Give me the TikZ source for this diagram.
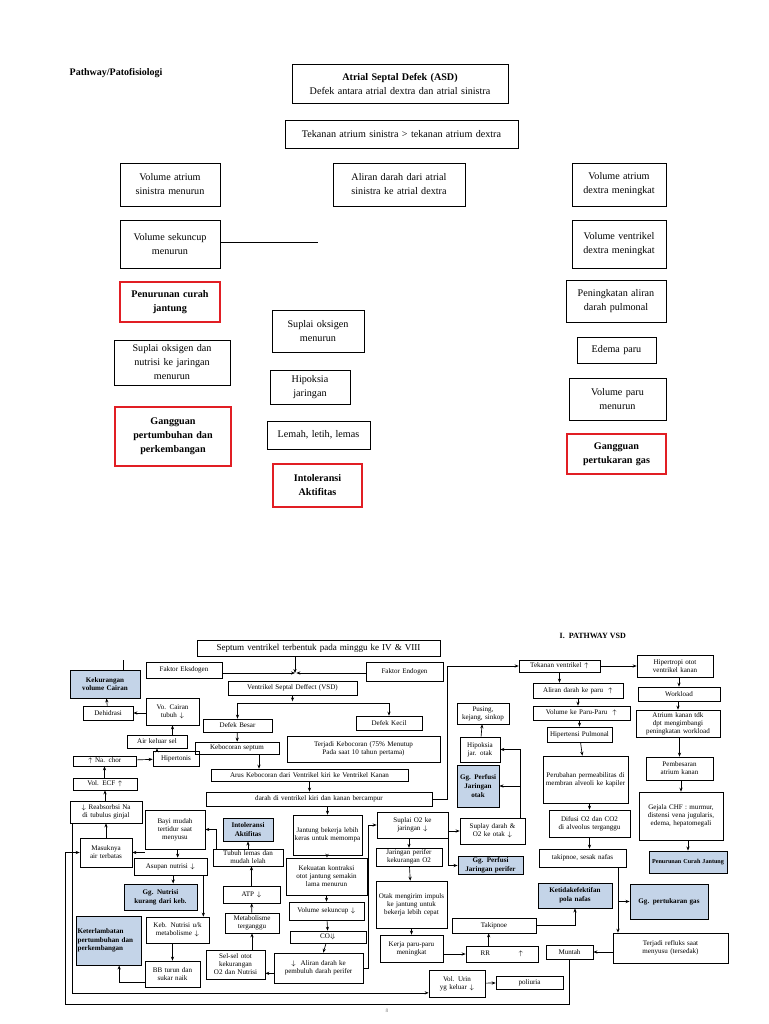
\documentclass[tikz,border=0pt]{standalone}
\usepackage{fontspec}
\setmainfont{Liberation Serif}
\usetikzlibrary{arrows.meta,calc}
\definecolor{rd}{RGB}{225,30,36}
\definecolor{bl}{RGB}{196,212,232}
\newcommand\bx[7][]{\node[box,#1,text width={0.75pt*(#5-#3)-2.4pt},minimum height={0.75pt*(#6-#4)}] (#2) at ({(#3+#5)/2},{(#4+#6)/2}) {#7};}
\begin{document}
\hyphenpenalty=10000\exhyphenpenalty=10000
\begin{tikzpicture}[x=0.75pt,y=-0.75pt,
 box/.style={draw,line width=0.5pt,align=center,inner sep=1.2pt,font=\fontsize{5.3}{6}\selectfont},
 top/.style={line width=0.6pt,font=\fontsize{7.6}{10.5}\selectfont},
 red/.style={draw=rd,line width=1.1pt,font=\fontsize{7.6}{10.5}\selectfont\bfseries},
 blu/.style={fill=bl,line width=0.7pt,font=\fontsize{5.3}{6.5}\selectfont\bfseries},
 arr/.style={-{Stealth[length=3pt,width=2.4pt]},line width=0.5pt},
 ln/.style={line width=0.5pt}]
\useasboundingbox (0,0) rectangle (768,1024);
% ---------- top ----------
\node[anchor=west,font=\fontsize{7.5}{9}\selectfont\bfseries] (ttl) at (65,73) {Pathway/Patofisiologi};
\bx[top]{asd}{292}{64}{508}{103}{\textbf{Atrial Septal Defek (ASD)}\\Defek antara atrial dextra dan atrial sinistra}
\bx[top]{tek}{285}{120}{518}{148}{Tekanan atrium sinistra > tekanan atrium dextra}
\bx[top]{vas}{120}{163}{220}{206}{Volume atrium\\sinistra menurun}
\bx[top]{ald}{333}{163}{465}{206}{Aliran darah dari atrial\\sinistra ke atrial dextra}
\bx[top]{vad}{572}{163}{666}{206}{Volume atrium\\dextra meningkat}
\bx[top]{vsk}{120}{220}{220}{268}{Volume sekuncup\\menurun}
\coordinate (vse) at (318,242);
\draw[line width=0.6pt] (vsk.east |- vse) -- (vse);
\bx[top]{vvd}{572}{220}{666}{268}{Volume ventrikel\\dextra meningkat}
\bx[red]{pcj}{120}{282}{220}{322}{Penurunan curah\\jantung}
\bx[top]{pad}{566}{280}{666}{322}{Peningkatan aliran\\darah pulmonal}
\bx[top]{som}{272}{310}{364}{352}{Suplai oksigen\\menurun}
\bx[top]{son}{114}{340}{230}{385}{Suplai oksigen dan\\nutrisi ke jaringan\\menurun}
\bx[top]{edp}{577}{337}{656}{363}{Edema paru}
\bx[top]{hj}{270}{370}{350}{404}{Hipoksia\\jaringan}
\bx[top]{vpm}{569}{378}{666}{420}{Volume paru\\menurun}
\bx[red]{gpp}{115}{407}{231}{466}{Gangguan\\pertumbuhan dan\\perkembangan}
\bx[top]{lll}{267}{421}{370}{449}{Lemah, letih, lemas}
\bx[red]{gpg}{567}{434}{666}{474}{Gangguan\\pertukaran gas}
\bx[red]{ia}{273}{464}{362}{507}{Intoleransi\\Aktifitas}
% ---------- bottom ----------
\node[anchor=west,font=\fontsize{6}{7}\selectfont\bfseries] (pv) at (555,636) {I.\ \ PATHWAY VSD};
\bx[font=\fontsize{6.8}{8}\selectfont]{sep}{197}{640}{440}{656}{Septum ventrikel terbentuk pada minggu ke IV \& VIII}
\bx{eks}{146}{662}{222}{678}{Faktor Eksdogen}
\bx{endo}{366}{662}{443}{681}{Faktor Endogen}
\coordinate (jn) at (295,673);
\draw[arr] (sep.south -| jn) -- (jn);
\draw[arr] (eks.east |- jn) -- (jn);
\draw[arr] (endo.west |- jn) -- ([xshift=1pt]jn);
\bx{vsd}{228}{681}{357}{695}{Ventrikel Septal Deffect (VSD)}
\bx{defb}{203}{719}{272}{732}{Defek Besar}
\bx{defk}{356}{716}{422}{730}{Defek Kecil}
\coordinate (sp) at (292,703);
\draw[arr] (vsd.south) -- ++(0,6);
\draw[ln] (defb.north |- sp) -- (defk.north |- sp);
\draw[arr] (defb.north |- sp) -- (defb.north);
\draw[arr] (defk.north |- sp) -- (defk.north);
\bx{kebs}{195}{742}{279}{754}{Kebocoran septum}
\bx{terj}{287}{736}{440}{762}{Terjadi Kebocoran (75\% Menutup Pada saat 10 tahun pertama)}
\draw[arr] (defb) -- (kebs);
\bx{arus}{211}{769}{408}{781}{Arus Kebocoran dari Ventrikel kiri ke Ventrikel Kanan}
\draw[arr] ([xshift=16.5pt]kebs.south) -- ([xshift=16.5pt]kebs.south |- arus.north);
\bx{darah}{206}{792}{432}{806}{darah di ventrikel kiri dan kanan bercampur}
\draw[arr] (arus.south) -- (arus.south |- darah.north);
% left column
\bx[blu]{kek}{70}{670}{140}{698}{Kekurangan volume Cairan}
\coordinate (kt) at (123,660);
\draw[ln] (kt) -- (kt |- kek.north);
\bx{dehi}{83}{706}{133}{720}{Dehidrasi}
\bx{voc}{146}{698}{199}{725}{Vo. Cairan tubuh $\downarrow$}
\bx{air}{127}{735}{187}{748}{Air keluar sel}
\bx{na}{73}{756}{136}{766}{$\uparrow$ Na. chor}
\bx{hip}{153}{751}{199}{766}{Hipertonis}
\bx{ecf}{73}{778}{137}{790}{Vol. ECF $\uparrow$}
\bx{reab}{70}{801}{142}{823}{$\downarrow$ Reabsorbsi Na di tubulus ginjal}
\bx{bayi}{145}{810}{205}{849}{Bayi mudah tertidur saat menyusu}
\bx{mas}{80}{838}{132}{867}{Masuknya air terbatas}
\draw[arr] (dehi) -- (kek);
\draw[arr] (voc.west |- dehi.east) -- (dehi.east);
\draw[arr] (air.north -| voc.south) -- (voc.south);
\draw[arr] (na) -- (hip);
\draw[arr] (hip.north -| air.south) -- (air.south);
\draw[arr] (ecf.north -| na.south) -- (na.south);
\draw[arr] (reab.north -| ecf.south) -- (ecf.south);
\draw[arr] (mas.north) -- (mas.north |- reab.south);
\draw[arr] (bayi.west |- mas.east) -- (mas.east);
\bx[blu]{intol}{223}{818}{273}{841}{Intoleransi Aktifitas}
\bx{tub}{213}{849}{283}{866}{Tubuh lemas dan mudah lelah}
\draw[arr] ([xshift=3pt]tub.north west) |- (bayi.east);
\draw[arr] (tub.north) -- (tub.north |- intol.south);
\bx{asup}{134}{858}{207}{875}{Asupan nutrisi $\downarrow$}
\bx[blu]{gnut}{124}{884}{197}{910}{Gg. Nutrisi kurang dari keb.}
\bx{keb}{146}{917}{209}{943}{Keb. Nutrisi u/k metabolisme $\downarrow$}
\bx{bb}{145}{961}{200}{987}{BB turun dan sukar naik}
\bx[blu,align=left]{kete}{76}{916}{141}{965}{Keterlambatan pertumbuhan dan perkembangan}
\draw[arr] ([xshift=2pt]bayi.south) -- ([xshift=2pt]bayi.south |- asup.north);
\draw[arr] ([xshift=2pt]asup.south) -- ([xshift=2pt]asup.south |- gnut.north);
\draw[arr] ([xshift=-3pt]asup.south east) -- ([xshift=-3pt]asup.south east |- keb.north);
\draw[arr] (keb.south -| bb.north) -- (bb.north);
\draw[arr] ([yshift=-6pt]bb.west) -| ([xshift=8pt]kete.south);
\bx{atp}{223}{886}{280}{903}{ATP $\downarrow$}
\bx{meta}{225}{913}{279}{933}{Metabolisme terganggu}
\bx{sel}{206}{950}{265}{979}{Sel-sel otot kekurangan O2 dan Nutrisi}
\draw[arr] (atp.north) -- (atp.north |- tub.south);
\draw[arr] (meta) -- (atp);
\draw[arr] (sel.north -| meta.south) -- (meta.south);
% middle column
\bx{jan}{293}{815}{362}{855}{Jantung bekerja lebih keras untuk memompa}
\bx{kuat}{286}{858}{367}{895}{Kekuatan kontraksi otot jantung semakin lama menurun}
\bx{vol}{289}{902}{364}{920}{Volume sekuncup $\downarrow$}
\bx{co}{290}{931}{366}{943}{CO$\Downarrow$}
\bx{alir}{274}{953}{363}{983}{$\downarrow$\ \ Aliran darah ke pembuluh darah perifer}
\draw[arr] (darah.south -| jan.north) -- (jan.north);
\draw[arr] (jan) -- (kuat);
\draw[arr] (kuat) -- (vol);
\draw[arr] (vol) -- (co);
\draw[arr] (co) -- (alir);
\draw[arr] ([yshift=-4pt]alir.west) -- ([yshift=-4pt]alir.west -| sel.east);
% right-middle
\bx{supo}{377}{812}{448}{838}{Suplai O2 ke jaringan $\downarrow$}
\draw[arr] (alir.east) -- ++(5,0) |- (supo.west);
\bx{supd}{460}{818}{525}{844}{Suplay darah \& O2 ke otak $\downarrow$}
\bx{pus}{457}{703}{509}{724}{Pusing, kejang, sinkop}
\bx{hipo}{460}{737}{500}{762}{Hipoksia jar. otak}
\bx[blu]{gpo}{457}{765}{499}{807}{Gg. Perfusi Jaringan otak}
\bx{jarp}{376}{849}{442}{865}{Jaringan perifer kekurangan O2}
\bx[blu]{gpjp}{458}{857}{523}{874}{Gg. Perfusi Jaringan perifer}
\bx{otak}{376}{881}{447}{928}{Otak mengirim impuls ke jantung untuk bekerja lebih cepat}
\bx{kerja}{380}{935}{443}{962}{Kerja paru-paru meningkat}
\bx{rr}{466}{946}{538}{962}{RR\hspace{4em}$\uparrow$}
\bx{takip}{452}{918}{536}{933}{Takipnoe}
\bx[blu]{ketid}{538}{883}{612}{908}{Ketidakefektifan pola nafas}
\bx{vu}{429}{970}{485}{997}{Vol. Urin yg keluar $\downarrow$}
\bx{poli}{496}{976}{563}{989}{poliuria}
\draw[arr] (supo.east |- supd.west) -- (supd.west);
\draw[arr] (supo.south east) |- (gpjp.west);
\coordinate (s1) at ([xshift=21pt]supd.north);
\draw[arr] (s1) |- (hipo.east);
\draw[arr] (s1 |- gpo.east) -- (gpo.east);
\draw[arr] (hipo) -- (pus);
\draw[arr] (supo.south -| jarp.north) -- (jarp.north);
\draw[arr] (jarp) -- (otak);
\draw[arr] (otak) -- (kerja);
\draw[arr] (kerja.east |- rr.west) -- (rr.west);
\draw[arr] ([xshift=-10pt]rr.north) -- ([xshift=-10pt]rr.north |- takip.south);
\draw[arr] (takip.east) -| (ketid.south);
\draw[arr] (vu) -- (poli);
% right top
\bx{tekv}{519}{660}{600}{672}{Tekanan ventrikel $\uparrow$}
\draw[arr] (darah.east) -- ++(15,0) |- (tekv.west);
\bx{hipt}{637}{655}{713}{677}{Hipertropi otot ventrikel kanan}
\bx{aldp}{533}{683}{623}{698}{Aliran darah ke paru\ \ $\uparrow$}
\bx{vpp}{533}{706}{630}{720}{Volume ke Paru-Paru\ \ $\uparrow$}
\bx{hpul}{547}{727}{612}{742}{Hipertensi Pulmonal}
\bx{perm}{543}{756}{628}{803}{Perubahan permeabilitas di membran alveoli ke kapiler}
\bx{dif}{549}{810}{630}{837}{Difusi O2 dan CO2 di alveolus terganggu}
\bx{taks}{539}{849}{626}{867}{takipnoe, sesak nafas}
\bx{work}{638}{687}{720}{701}{Workload}
\bx{atk}{636}{710}{720}{737}{Atrium kanan tdk dpt mengimbangi peningkatan workload}
\bx{pemb}{646}{757}{713}{780}{Pembesaran atrium kanan}
\bx{gej}{639}{792}{723}{840}{Gejala CHF : murmur, distensi vena jugularis, edema, hepatomegali}
\bx[blu,font=\fontsize{4.6}{5.6}\selectfont\bfseries]{pcj2}{649}{851}{727}{873}{Penurunan Curah Jantung}
\bx[blu]{gpgas}{630}{884}{708}{919}{Gg. pertukaran gas}
\bx{refl}{613}{933}{728}{963}{Terjadi refluks saat menyusu (tersedak)}
\bx{munt}{546}{945}{593}{959}{Muntah}
\draw[arr] (tekv) -- (hipt);
\draw[arr] (tekv.south) -- (tekv.south |- aldp.north);
\draw[arr] (aldp.south) -- (aldp.south |- vpp.north);
\draw[arr] (vpp.south -| hpul.north) -- (hpul.north);
\draw[arr] (hpul) -- (perm);
\draw[arr] (perm.south -| dif.north) -- (dif.north);
\draw[arr] (dif.south) -- (dif.south |- taks.north);
\draw[arr] (hipt.south -| work.north) -- (work.north);
\draw[arr] (work.south -| atk.north) -- (atk.north);
\draw[arr] (atk.south -| pemb.north) -- (pemb.north);
\draw[arr] (pemb.south -| gej.north) -- (gej.north);
\draw[arr] (gej.south -| pcj2.north) -- (pcj2.north);
\coordinate (t1) at ([xshift=26.6pt]taks.south);
\draw[arr] (t1) -- (t1 |- refl.north);
\draw[arr] (t1 |- gpgas.west) -- (gpgas.west);
\draw[arr] (refl.west |- munt.east) -- (munt.east);
% loops
\coordinate (lo) at (65,1004);
\draw[arr] (munt.south) |- (lo) |- (mas.west);
\coordinate (li) at (72,823);
\draw[arr] (li) |- ([yshift=-7pt]vu.west);
\node[font=\fontsize{4}{5}\selectfont,text=gray] (pg) at (387,1011) {8};
\end{tikzpicture}
\end{document}
